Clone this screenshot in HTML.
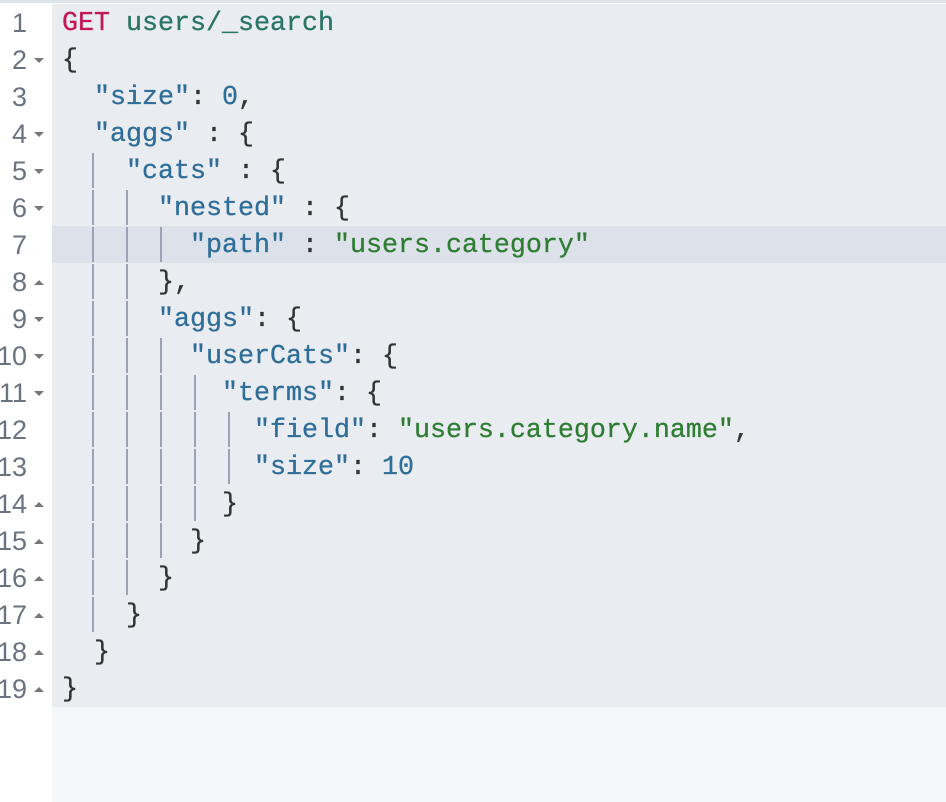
<!DOCTYPE html>
<html><head><meta charset="utf-8"><style>
html,body{margin:0;padding:0;width:946px;height:802px;overflow:hidden;background:#fff;}
#top{position:absolute;left:0;top:0;width:946px;height:3px;background:#dfe3ea;}
#ed{position:absolute;left:52px;top:4px;width:894px;height:703px;background:#e9ecf1;}
#below{position:absolute;left:52px;top:707px;width:894px;height:95px;background:#f5f6fa;}
#hl{position:absolute;left:52px;top:226px;width:894px;height:37px;background:#dde1ea;}
.l{position:absolute;left:62px;height:37px;line-height:37px;font-family:"Liberation Mono",monospace;font-size:26.67px;color:#333;white-space:pre;-webkit-text-stroke:0.3px currentColor;}
.n{position:absolute;left:-22px;width:49px;text-align:right;height:37px;line-height:37px;font-family:"Liberation Sans",sans-serif;font-size:27px;color:#6b7280;}
.f{position:absolute;left:34px;width:0;height:0;border-left:5px solid transparent;border-right:5px solid transparent;}
.fd{border-top:5px solid #777;}
.fu{border-bottom:5px solid #777;}
.g{position:absolute;width:2px;background:#9aa3b5;height:35px;}
.k{color:#2f6e98}.s{color:#2e7d32}.m{color:#c2185b}.u{color:#2a7567}
</style></head><body>
<div id="top"></div><div id="ed"></div><div id="below"></div><div id="hl"></div>
<div id="c"></div>
<script>
var lines=[
'<span class="m">GET</span> <span class="u">users/_search</span>',
'{',
'  <span class="k">"size"</span>: <span class="k">0</span>,',
'  <span class="k">"aggs"</span> : {',
'    <span class="k">"cats"</span> : {',
'      <span class="k">"nested"</span> : {',
'        <span class="k">"path"</span> : <span class="s">"users.category"</span>',
'      },',
'      <span class="k">"aggs"</span>: {',
'        <span class="k">"userCats"</span>: {',
'          <span class="k">"terms"</span>: {',
'            <span class="k">"field"</span>: <span class="s">"users.category.name"</span>,',
'            <span class="k">"size"</span>: <span class="k">10</span>',
'          }',
'        }',
'      }',
'    }',
'  }',
'}'];
var fold={2:'d',4:'d',5:'d',6:'d',8:'u',9:'d',10:'d',11:'d',14:'u',15:'u',16:'u',17:'u',18:'u',19:'u'};
var guides={5:1,6:2,7:3,8:2,9:2,10:3,11:4,12:5,13:5,14:4,15:3,16:2,17:1};
var h='';
for(var i=0;i<19;i++){
 var y=4+i*37,n=i+1;
 h+='<div class="n" style="top:'+(y+1)+'px">'+n+'</div>';
 if(fold[n]) h+='<div class="f f'+fold[n]+'" style="top:'+(y+17)+'px"></div>';
 for(var g=0;g<(guides[n]||0);g++) h+='<div class="g" style="left:'+(92+g*34)+'px;top:'+(y+1)+'px"></div>';
 h+='<div class="l" style="top:'+(y+2)+'px">'+lines[i]+'</div>';
}
document.getElementById('c').innerHTML=h;
</script>
</body></html>
